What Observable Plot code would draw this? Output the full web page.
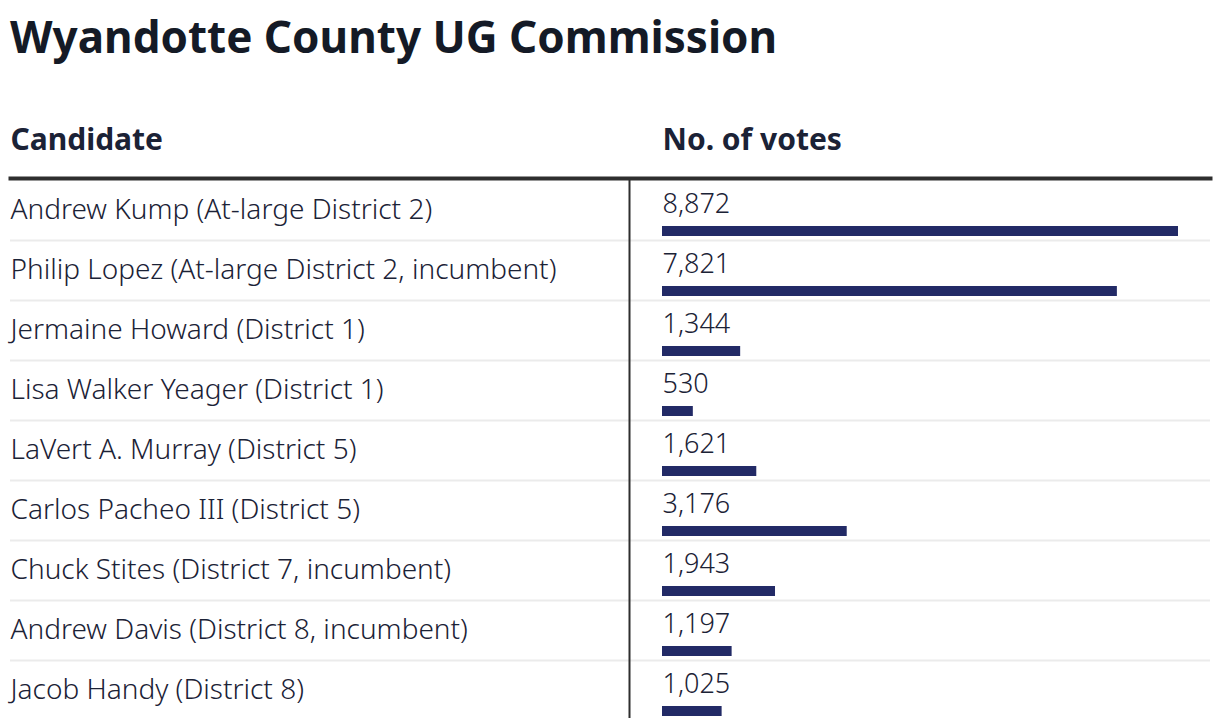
<!DOCTYPE html>
<html>
<head>
<meta charset="utf-8">
<script src="https://cdn.jsdelivr.net/npm/d3@7"></script>
<script src="https://cdn.jsdelivr.net/npm/@observablehq/plot@0.6"></script>
<style>
  html, body { margin: 0; padding: 0; background: #fff; }
  body { width: 1220px; height: 728px; position: relative; overflow: hidden; font-family: "Noto Sans", sans-serif; }
  #title { position: absolute; left: 10px; top: 14px; font-size: 44px; line-height: 44px; font-weight: 700; color: #141a26; white-space: nowrap; }
  #chart { position: absolute; left: 0; top: 100px; }
</style>
</head>
<body>
<div id="title">Wyandotte County UG Commission</div>
<div id="chart"></div>
<script>
const title = "Wyandotte County UG Commission";
const headerCandidate = "Candidate";
const headerVotes = "No. of votes";
const candidates = [
  "Andrew Kump (At-large District 2)",
  "Philip Lopez (At-large District 2, incumbent)",
  "Jermaine Howard (District 1)",
  "Lisa Walker Yeager (District 1)",
  "LaVert A. Murray (District 5)",
  "Carlos Pacheo III (District 5)",
  "Chuck Stites (District 7, incumbent)",
  "Andrew Davis (District 8, incumbent)",
  "Jacob Handy (District 8)"
];
const votes = [8872, 7821, 1344, 530, 1621, 3176, 1943, 1197, 1025];

const data = candidates.map((name, i) => ({name, votes: votes[i]}));
const fmt = d3.format(",");
const textColor = "#1b2236";

const chart = Plot.plot({
  width: 1220,
  height: 628,
  marginTop: 80,
  marginBottom: 8,
  marginLeft: 10,
  marginRight: 10,
  style: {fontFamily: "'Noto Sans', sans-serif", background: "#fff"},
  x: {domain: [0, d3.max(votes)], range: [662, 1178], axis: null},
  y: {domain: candidates, padding: 0, axis: null},
  marks: [
    Plot.ruleY(candidates.slice(0, -1), {y: d => d, dy: 30, stroke: "#ebebeb", strokeWidth: 2}),
    Plot.frame({anchor: "top", stroke: "#2e2e2e", strokeWidth: 4, dy: -2}),
    Plot.ruleX([0], {dx: -33, stroke: "#2e2e2e", strokeWidth: 2, insetBottom: 2}),
    Plot.text([headerCandidate], {frameAnchor: "top-left", textAnchor: "start", lineAnchor: "bottom", dy: -31, fontSize: 30, fontWeight: 700, fill: textColor}),
    Plot.text([{x: 0, t: headerVotes}], {x: "x", text: "t", frameAnchor: "top", textAnchor: "start", lineAnchor: "bottom", dy: -31, fontSize: 30, fontWeight: 700, fill: textColor}),
    Plot.text(data, {y: "name", text: "name", frameAnchor: "left", textAnchor: "start", dy: 0, fontSize: 28, fontWeight: 300, fill: textColor}),
    Plot.text(data, {x: () => 0, y: "name", text: d => fmt(d.votes), textAnchor: "start", lineAnchor: "bottom", dy: 2.5, fontSize: 27, fontWeight: 300, fill: textColor}),
    Plot.barX(data, {x: "votes", y: "name", insetTop: 46, insetBottom: 4, fill: "#222a66"})
  ]
});
document.getElementById("chart").appendChild(chart);
</script>
</body>
</html>
